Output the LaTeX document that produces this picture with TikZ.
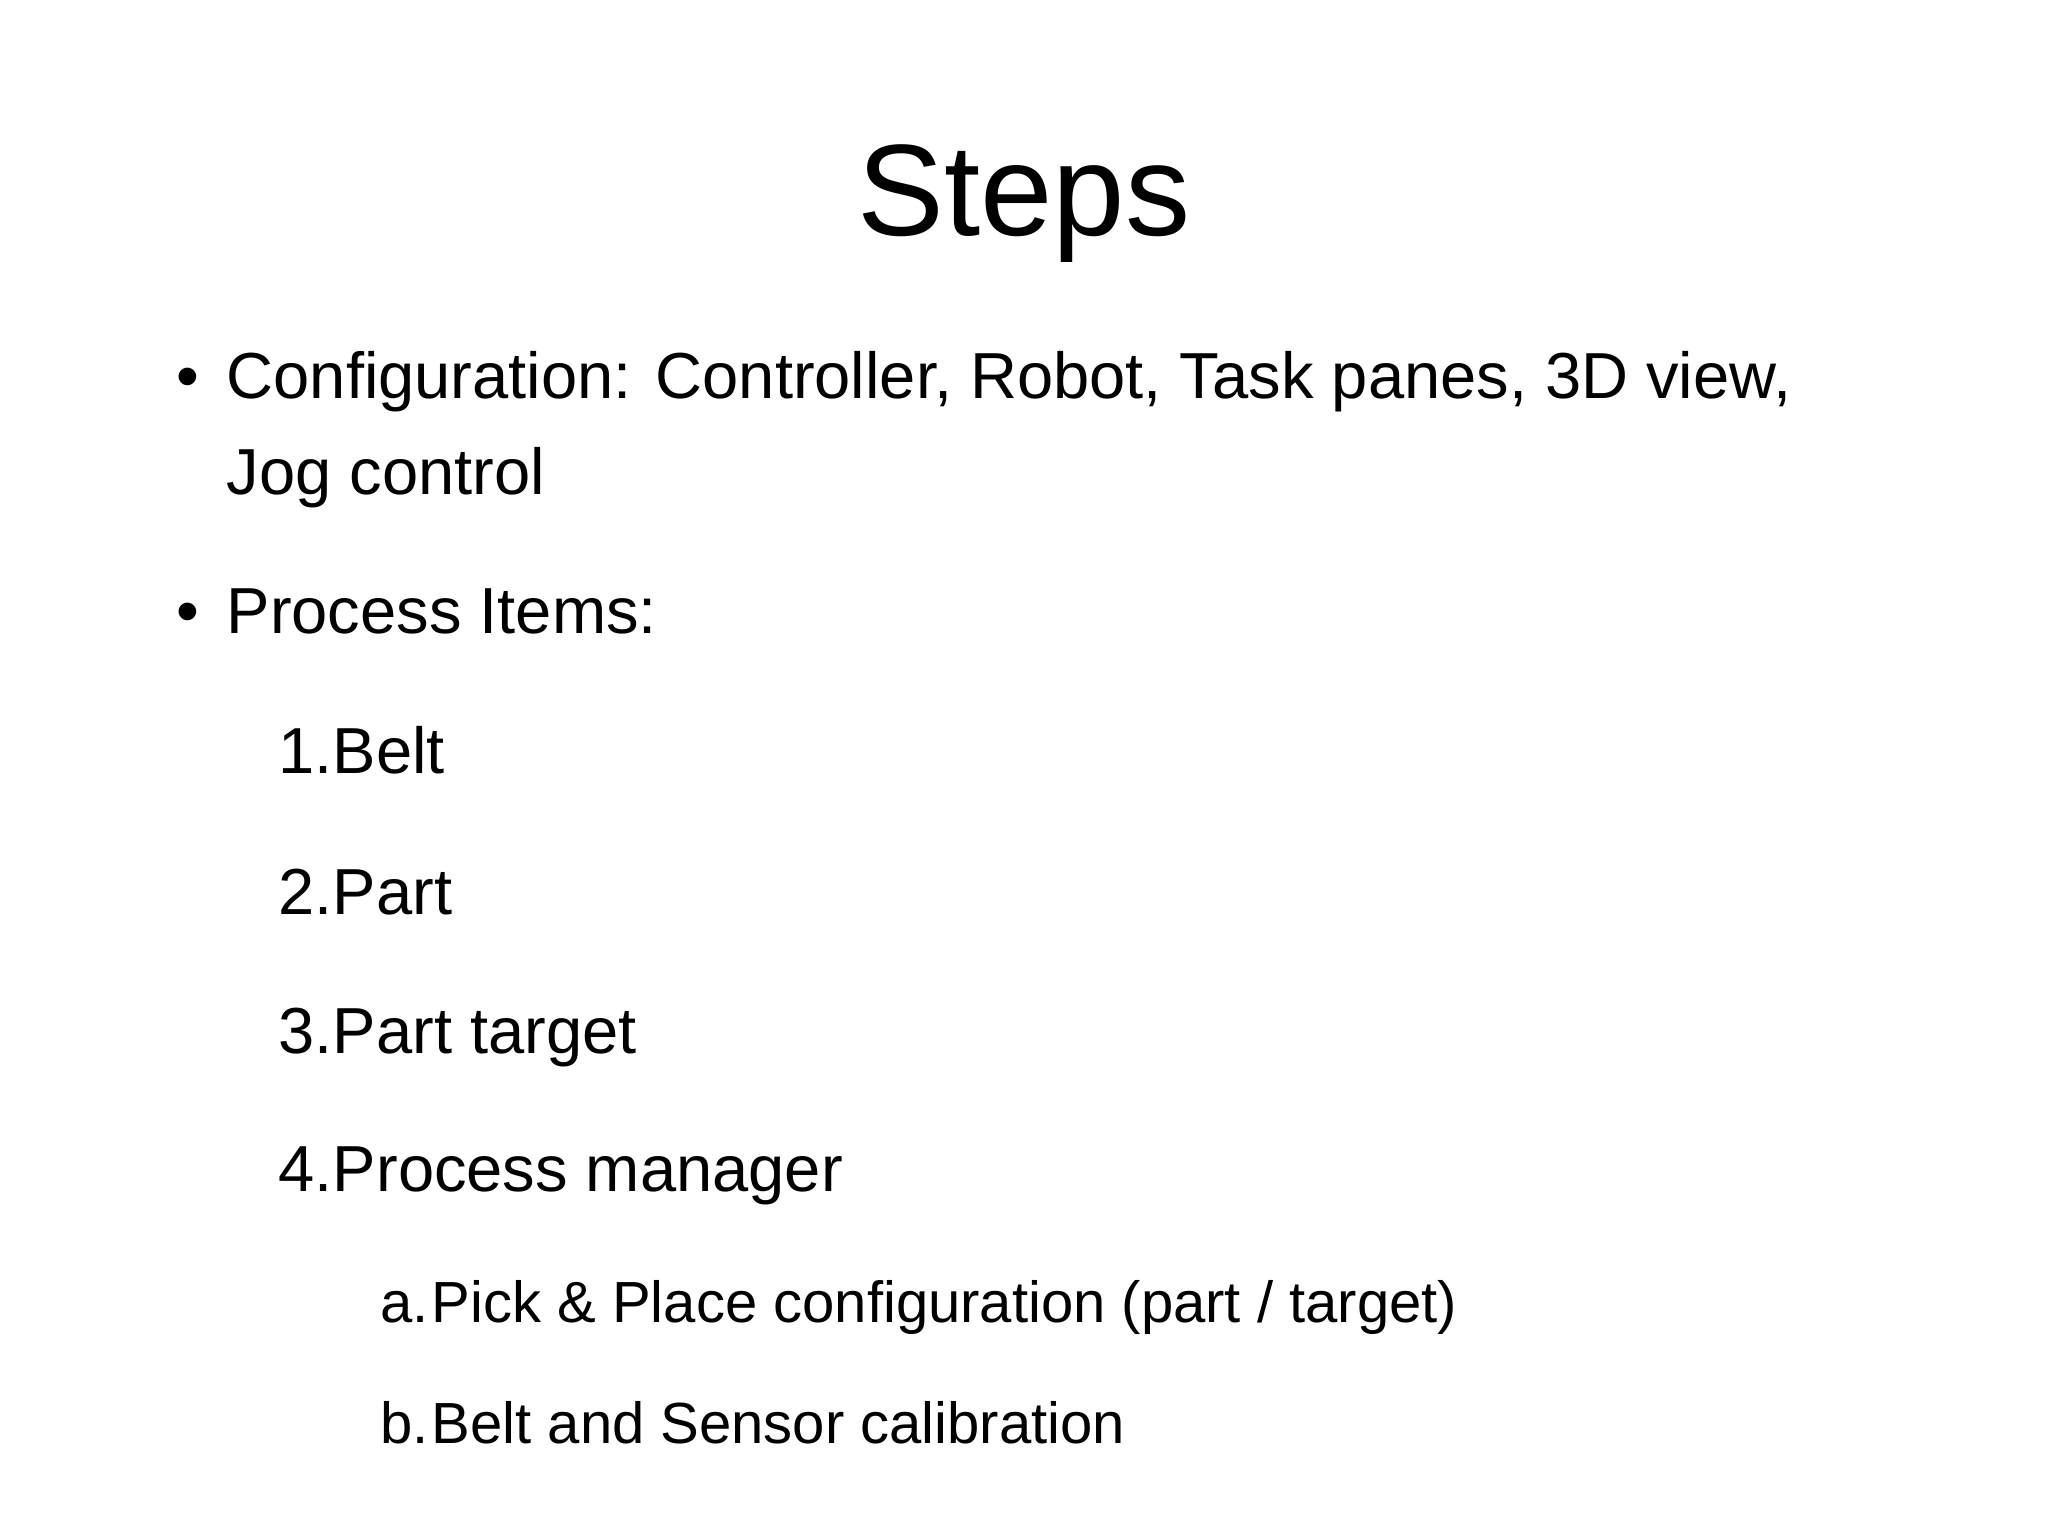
\documentclass[tikz,border=0pt]{standalone}
\usepackage{fontspec}
\setmainfont{Liberation Sans}
\begin{document}
\begin{tikzpicture}[x=0.01cm,y=-0.01cm,
  big/.style={anchor=base west,inner sep=0pt,font=\fontsize{18.5pt}{22pt}\selectfont},
  small/.style={anchor=base west,inner sep=0pt,font=\fontsize{16.5pt}{20pt}\selectfont}]
\useasboundingbox[fill=white] (0,0) rectangle (2048,1536);
\node[anchor=base,inner sep=0pt,font=\fontsize{37pt}{44pt}\selectfont] (title) at (1024,235) {Steps};
\node[big] (b1) at (176,398) {\textbullet};
\node[big] (l1) at (226,398) {Configuration: Controller, Robot, Task panes, 3D view,};
\node[big] (l2) at (226,494) {Jog control};
\node[big] (b2) at (176,633) {\textbullet};
\node[big] (l3) at (226,633) {Process Items:};
\node[big] (n1) at (278,773) {1.Belt};
\node[big] (n2) at (278,914) {2.Part};
\node[big] (n3) at (278,1053) {3.Part target};
\node[big] (n4) at (278,1191) {4.Process manager};
\node[small] (a) at (380,1322) {a.};
\node[small] (at) at (431,1322) {Pick \& Place configuration (part / target)};
\node[small] (b) at (380,1443) {b.};
\node[small] (bt) at (431,1443) {Belt and Sensor calibration};
\end{tikzpicture}
\end{document}
